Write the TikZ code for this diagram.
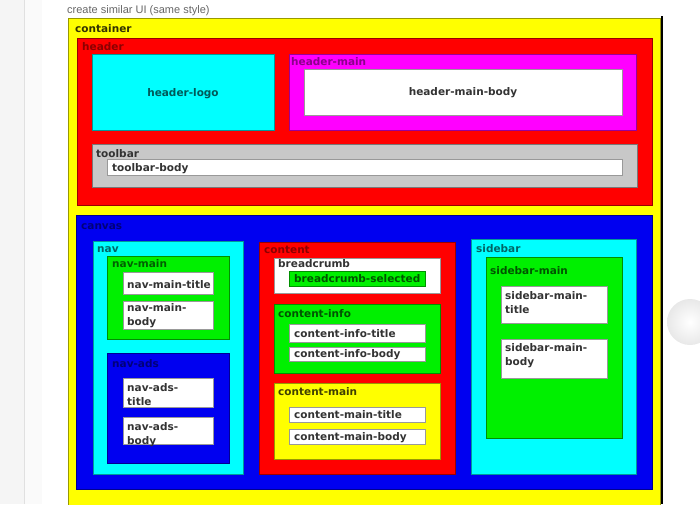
\documentclass[tikz,border=0pt]{standalone}
\usepackage{fontspec}
\newfontfamily\uifont{DejaVu Sans}
\newfontfamily\capfont{Liberation Sans}
\definecolor{tbgray}{HTML}{C8C8C8}
\definecolor{uiyellow}{HTML}{FFFF00}
\definecolor{uired}{HTML}{FF0000}
\definecolor{uicyan}{HTML}{00FFFF}
\definecolor{uimagenta}{HTML}{FF00FF}
\definecolor{uiblue}{HTML}{0000F0}
\definecolor{uigreen}{HTML}{00F000}

\begin{document}
\begin{tikzpicture}[x=1pt,y=-1pt,
    box/.style={fill=#1, draw=#1!60!black, line width=0.8pt},
    lbl/.style={anchor=base west, inner sep=0pt, align=left, text=black!80,
      font=\uifont\bfseries\fontsize{10.5}{14}\selectfont}]
    \useasboundingbox (0,0) rectangle (700,504);
    \clip (0,0) rectangle (700,504);

    % page around the picture
    \fill[black!4] (0,0) rectangle (24,504);
    \draw[black!12] (24.5,0) -- (24.5,504);
    \fill[black!2] (25,0) rectangle (42,504);
    \shade[inner color=white, outer color=black!9] (690,322) circle (23);
    \node[anchor=base west, inner sep=0pt, font=\capfont\fontsize{11}{13}\selectfont, text=black!60] (caption) at (67,13) {create similar UI (same style)};

    % container and header
    \draw[box=uiyellow] (68,18) rectangle (660,510);
    \draw[line width=2pt] (662,16) -- (662,504);
    \node[lbl, text=uiyellow!20!black] (container) at (75,32) {container};
    \draw[box=uired] (77,38) rectangle (652,205);
    \node[lbl, text=uired!55!black] (header) at (82,50) {header};
    \draw[box=uicyan] (92,54) rectangle (274,130);
    \node[lbl, anchor=base, text=uicyan!35!black] (hlogo) at (183,96) {header-logo};
    \draw[box=uimagenta] (289,54) rectangle (636,130);
    \node[lbl, text=uimagenta!55!black] (hmain) at (291,65) {header-main};
    \draw[box=white] (304,69) rectangle (622,115);
    \node[lbl, anchor=base] (hmainbody) at (463,95) {header-main-body};
    \draw[box=tbgray] (92,144) rectangle (637,187);
    \node[lbl] (toolbar) at (96,157) {toolbar};
    \draw[box=white] (107,159) rectangle (622,175);
    \node[lbl] (toolbarbody) at (112,171) {toolbar-body};

    % canvas
    \draw[box=uiblue] (76,215) rectangle (652,489);
    \node[lbl, text=uiblue!50!black] (canvas) at (81,229) {canvas};

    % nav (two-line labels sit on their last line)
    \draw[box=uicyan] (93,241) rectangle (243,474);
    \node[lbl, text=uicyan!40!black] (nav) at (97,252) {nav};
    \draw[box=uigreen] (107,256) rectangle (229,339);
    \node[lbl, text=uigreen!40!black] (navmain) at (112,267) {nav-main};
    \draw[box=white] (123,272) rectangle (213,294);
    \node[lbl] (navmaintitle) at (127,288) {nav-main-title};
    \draw[box=white] (123,301) rectangle (213,329);
    \node[lbl] (navmainbody) at (127,325) {nav-main-\\body};
    \draw[box=uiblue] (107,353) rectangle (229,463);
    \node[lbl, text=uiblue!50!black] (navads) at (112,367) {nav-ads};
    \draw[box=white] (123,378) rectangle (213,407);
    \node[lbl] (navadstitle) at (127,405) {nav-ads-\\title};
    \draw[box=white] (123,417) rectangle (213,444);
    \node[lbl] (navadsbody) at (127,444) {nav-ads-\\body};

    % content
    \draw[box=uired] (259,242) rectangle (455,474);
    \node[lbl, text=uired!55!black] (content) at (264,253) {content};
    \draw[box=white] (274,258) rectangle (440,293);
    \node[lbl] (breadcrumb) at (278,267) {breadcrumb};
    \draw[box=uigreen] (289,271) rectangle (425,286);
    \node[lbl, text=uigreen!35!black] (bcselected) at (294,282) {breadcrumb-selected};
    \draw[box=uigreen] (274,304) rectangle (440,373);
    \node[lbl, text=uigreen!35!black] (cinfo) at (278,317) {content-info};
    \draw[box=white] (289,324) rectangle (425,342);
    \node[lbl] (cinfotitle) at (294,337) {content-info-title};
    \draw[box=white] (289,347) rectangle (425,361);
    \node[lbl] (cinfobody) at (294,357) {content-info-body};
    \draw[box=uiyellow] (274,383) rectangle (440,459);
    \node[lbl, text=uiyellow!25!black] (cmain) at (278,395) {content-main};
    \draw[box=white] (289,407) rectangle (425,422);
    \node[lbl] (cmaintitle) at (294,418) {content-main-title};
    \draw[box=white] (289,429) rectangle (425,444);
    \node[lbl] (cmainbody) at (294,440) {content-main-body};

    % sidebar
    \draw[box=uicyan] (471,239) rectangle (636,474);
    \node[lbl, text=uicyan!40!black] (sidebar) at (476,252) {sidebar};
    \draw[box=uigreen] (486,257) rectangle (622,438);
    \node[lbl, text=uigreen!35!black] (sbmain) at (490,274) {sidebar-main};
    \draw[box=white] (501,286) rectangle (607,323);
    \node[lbl] (sbmaintitle) at (505,313) {sidebar-main-\\title};
    \draw[box=white] (501,339) rectangle (607,378);
    \node[lbl] (sbmainbody) at (505,365) {sidebar-main-\\body};
\end{tikzpicture}
\end{document}
